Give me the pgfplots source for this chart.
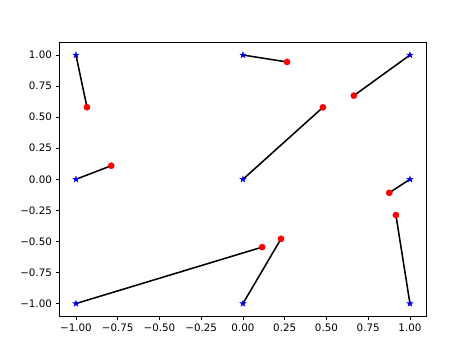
\documentclass[border=0pt]{standalone}
\usepackage{fontspec}
\setmainfont{DejaVu Sans}
\usepackage{pgfplots}
\pgfplotsset{compat=1.18}
\pgfdeclareplotmark{mstar}{%
  \pgfpathmoveto{\pgfpointpolar{90}{\pgfplotmarksize}}%
  \pgfpathlineto{\pgfpointpolar{126}{0.382\pgfplotmarksize}}%
  \pgfpathlineto{\pgfpointpolar{162}{\pgfplotmarksize}}%
  \pgfpathlineto{\pgfpointpolar{198}{0.382\pgfplotmarksize}}%
  \pgfpathlineto{\pgfpointpolar{234}{\pgfplotmarksize}}%
  \pgfpathlineto{\pgfpointpolar{270}{0.382\pgfplotmarksize}}%
  \pgfpathlineto{\pgfpointpolar{306}{\pgfplotmarksize}}%
  \pgfpathlineto{\pgfpointpolar{342}{0.382\pgfplotmarksize}}%
  \pgfpathlineto{\pgfpointpolar{18}{\pgfplotmarksize}}%
  \pgfpathlineto{\pgfpointpolar{54}{0.382\pgfplotmarksize}}%
  \pgfpathclose
  \pgfusepathqfillstroke
}
\begin{document}
\begin{tikzpicture}
\begin{axis}[
  scale only axis,
  width=367.4pt, height=273.4pt,
  xmin=-1.1, xmax=1.1, ymin=-1.1, ymax=1.1,
  axis line style={black, line width=0.82pt},
  tick align=outside,
  xtick pos=left, ytick pos=left,
  major tick length=3.6pt,
  tick style={black, line width=0.82pt},
  xtick={-1,-0.75,-0.5,-0.25,0,0.25,0.5,0.75,1},
  ytick={-1,-0.75,-0.5,-0.25,0,0.25,0.5,0.75,1},
  xticklabels={−1.00,−0.75,−0.50,−0.25,0.00,0.25,0.50,0.75,1.00},
  yticklabels={−1.00,−0.75,−0.50,−0.25,0.00,0.25,0.50,0.75,1.00},
  tick label style={font=\fontsize{10.3}{12}\selectfont, inner sep=0pt},
  xticklabel style={yshift=-3.6pt},
  yticklabel style={xshift=-3.6pt},
]
\addplot[black, line width=1.54pt, no markers] coordinates {(-1,1) (-0.934,0.58)};
\addplot[black, line width=1.54pt, no markers] coordinates {(0,1) (0.264,0.944)};
\addplot[black, line width=1.54pt, no markers] coordinates {(1,1) (0.664,0.673)};
\addplot[black, line width=1.54pt, no markers] coordinates {(-1,0) (-0.789,0.109)};
\addplot[black, line width=1.54pt, no markers] coordinates {(0,0) (0.479,0.579)};
\addplot[black, line width=1.54pt, no markers] coordinates {(1,0) (0.876,-0.109)};
\addplot[black, line width=1.54pt, no markers] coordinates {(-1,-1) (0.115,-0.546)};
\addplot[black, line width=1.54pt, no markers] coordinates {(0,-1) (0.228,-0.479)};
\addplot[black, line width=1.54pt, no markers] coordinates {(1,-1) (0.916,-0.288)};
\addplot[only marks, mark=mstar, mark size=3.1pt, draw={rgb,1:red,0;green,0;blue,0.9}, fill={rgb,1:red,0;green,0;blue,0.9}, line width=0.5pt] coordinates {
(-1,1) (0,1) (1,1) (-1,0) (0,0) (1,0) (-1,-1) (0,-1) (1,-1)};
\addplot[only marks, mark=*, mark size=3.1pt, draw=red, fill=red] coordinates {
(-0.934,0.58) (0.264,0.944) (0.664,0.673) (-0.789,0.109) (0.479,0.579) (0.876,-0.109) (0.115,-0.546) (0.228,-0.479) (0.916,-0.288)};
\coordinate (BL) at (axis description cs:-0.1613,-0.1426);
\coordinate (TR) at (axis description cs:1.1289,1.1558);
\end{axis}
\pgfresetboundingbox
\path (BL) rectangle (TR);
\end{tikzpicture}
\end{document}
